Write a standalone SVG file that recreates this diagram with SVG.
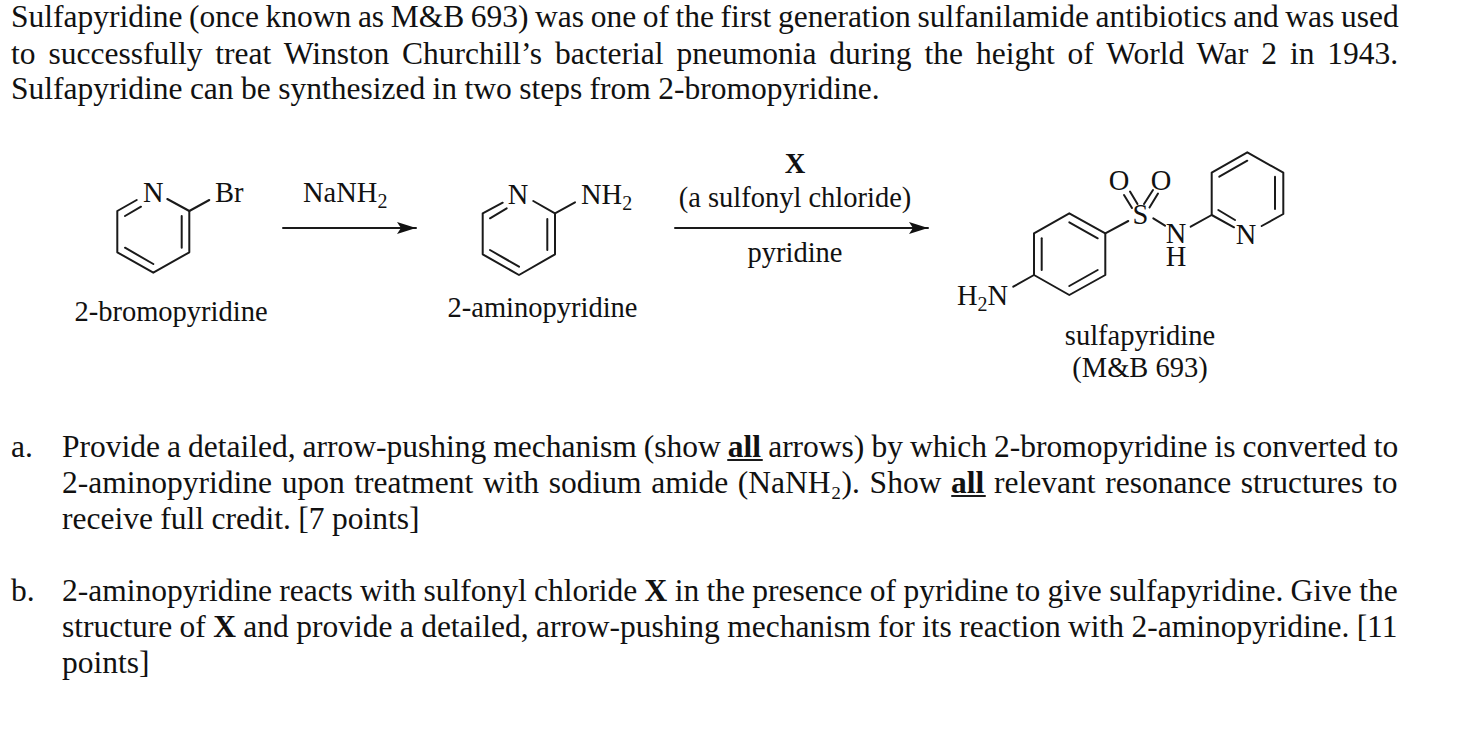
<svg xmlns="http://www.w3.org/2000/svg" width="1472" height="746" viewBox="0 0 1472 746">
<defs>
<marker id="ah" markerUnits="userSpaceOnUse" markerWidth="20" markerHeight="13" refX="19" refY="6.5" orient="auto"><path d="M0 .5 L19 6.500 L0 12.500 L4 6.500 Z" fill="#111"/></marker>
</defs>
<style>
text{font-family:"Liberation Serif","Times New Roman",serif;fill:#111}
.p{font-size:31.5px}
.c{font-size:28.5px}
.s{font-size:20px}
.m{text-anchor:middle}
.b{font-weight:bold}
line,polyline,polygon{stroke:#1a1a1a;stroke-width:2;fill:none;stroke-linecap:round;stroke-linejoin:round}
</style>
<rect width="1472" height="746" fill="#fff"/>
<g id="intro">
<text class="p" x="11" y="27" word-spacing="-1.3">Sulfapyridine (once known as M&amp;B 693) was one of the first generation sulfanilamide antibiotics and was used</text>
<text class="p" x="11" y="63.500" word-spacing="5.07">to successfully treat Winston Churchill’s bacterial pneumonia during the height of World War 2 in 1943.</text>
<text class="p" x="11" y="99" word-spacing="-.45">Sulfapyridine can be synthesized in two steps from 2-bromopyridine.</text>
</g>
<g id="bromopyridine">
<polyline points="136.7,200 117.3,211 117.3,252.3 153.3,272.7 189.3,252.3 189.3,211 167.3,199"/>
<line x1="125" y1="216" x2="141" y2="206.7"/><line x1="181.7" y1="216" x2="181.7" y2="247.7"/><line x1="125" y1="247.7" x2="153.3" y2="264"/>
<line x1="189.3" y1="211" x2="209.3" y2="200"/>
<text class="c m" x="153.300" y="202">N</text><text class="c" x="215" y="202">Br</text>
<text class="c m" x="171" y="320.500">2-bromopyridine</text>
</g>
<g id="aminopyridine">
<polyline points="502.7,202.7 482.7,213.3 482.7,254.3 519,275 555,254.3 555,213.3 533.3,201"/>
<line x1="490" y1="218.3" x2="506.7" y2="208.3"/><line x1="547.3" y1="219" x2="547.3" y2="250"/><line x1="490" y1="250" x2="519" y2="266.7"/>
<line x1="555" y1="213.3" x2="575" y2="202.3"/>
<text class="c m" x="518" y="203.500">N</text><text class="c" x="581" y="203.500">NH<tspan class="s" dy="6">2</tspan></text>
<text class="c m" x="542.500" y="316.500">2-aminopyridine</text>
</g>
<g id="sulfapyridine">
<polygon points="1034,233.3 1034,275 1069.3,295 1105.3,275 1105.3,233.300 1069.3,213.3"/>
<line x1="1041.7" y1="238.3" x2="1041.7" y2="270"/><line x1="1069.3" y1="286" x2="1097.7" y2="270"/><line x1="1069.3" y1="222.3" x2="1097.7" y2="238.3"/>
<line x1="1034" y1="275" x2="1013.3" y2="286.7"/><line x1="1105.3" y1="233.3" x2="1128.3" y2="221"/>
<line x1="1124" y1="195" x2="1132" y2="208"/><line x1="1130" y1="191.500" x2="1137.500" y2="204"/>
<line x1="1144" y1="204" x2="1153" y2="190"/><line x1="1149.500" y1="207.500" x2="1158" y2="193.500"/>
<line x1="1153.3" y1="218.3" x2="1165" y2="225.7"/><line x1="1190.7" y1="226.7" x2="1211.7" y2="215"/>
<polyline points="1234,227.3 1211.7,215 1211.7,172.7 1247.3,152.3 1283.3,172.7 1283.3,214 1261.7,226"/>
<line x1="1218.3" y1="210" x2="1235" y2="220"/><line x1="1219.3" y1="176.7" x2="1247.3" y2="160.7"/><line x1="1275" y1="176.7" x2="1275" y2="209"/>
<text class="c m" x="1119" y="189.500">O</text><text class="c m" x="1161" y="189.500">O</text><text class="c m" x="1140.500" y="223.500">S</text>
<text class="c m"><tspan x="1176" y="243">N</tspan><tspan x="1176" y="266">H</tspan></text><text class="c m" x="1246" y="244">N</text>
<text class="c" x="957" y="305">H<tspan class="s" dy="6">2</tspan><tspan dy="-6">N</tspan></text>
<text class="c m" x="1140" y="344.500">sulfapyridine</text><text class="c m" x="1140" y="377">(M&amp;B 693)</text>
</g>
<g id="connectors">
<line x1="283" y1="228" x2="416" y2="228" marker-end="url(#ah)"/>
<line x1="675" y1="228" x2="928" y2="228" marker-end="url(#ah)"/>
</g>
<g id="reagents">
<text class="c" x="303" y="202">NaNH<tspan class="s" dy="6">2</tspan></text>
<text class="c m b" x="795" y="172.500">X</text>
<text class="c m" x="795" y="207">(a sulfonyl chloride)</text>
<text class="c m" x="795" y="261.500">pyridine</text>
</g>
<g id="question-a">
<text class="p" x="11" y="456.500">a.</text>
<text class="p" x="62" y="456.500" word-spacing="-.85">Provide a detailed, arrow-pushing mechanism (show <tspan class="b">all</tspan> arrows) by which 2-bromopyridine is converted to</text>
<line x1="728" y1="460" x2="762" y2="460" stroke-width="2.500"/>
<text class="p" x="62" y="492.500" word-spacing="1.83">2-aminopyridine upon treatment with sodium amide (NaNH₂). Show <tspan class="b">all</tspan> relevant resonance structures to</text>
<line x1="952" y1="496" x2="985" y2="496" stroke-width="2.500"/>
<text class="p" x="62" y="529" word-spacing="-.5">receive full credit. [7 points]</text>
</g>
<g id="question-b">
<text class="p" x="11" y="601">b.</text>
<text class="p" x="62" y="601" word-spacing="-.53">2-aminopyridine reacts with sulfonyl chloride <tspan class="b">X</tspan> in the presence of pyridine to give sulfapyridine. Give the</text>
<text class="p" x="62" y="637" word-spacing="-.5">structure of <tspan class="b">X</tspan> and provide a detailed, arrow-pushing mechanism for its reaction with 2-aminopyridine. [11</text>
<text class="p" x="62" y="673">points]</text>
</g>
</svg>
